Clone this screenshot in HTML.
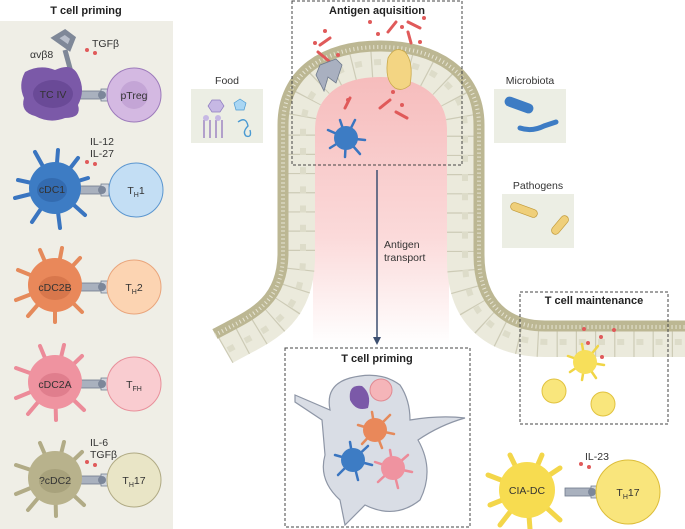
<!DOCTYPE html>
<html><head><meta charset="utf-8"><style>
body{margin:0;background:#fff}
svg{display:block;font-family:"Liberation Sans",sans-serif}
.t{font-size:10.5px;fill:#333}
.b{font-size:11px;font-weight:bold;fill:#222}
</style></head><body>
<svg width="685" height="529" viewBox="0 0 685 529">
<defs>
<linearGradient id="pk" x1="0" y1="0" x2="0" y2="1">
<stop offset="0" stop-color="#f6bcbc"/><stop offset="0.6" stop-color="#fbdada"/><stop offset="1" stop-color="#fff"/></linearGradient>
<g id="conn"><rect x="0" y="-4" width="30" height="8" fill="#a9b1be" stroke="#6f7a8c" stroke-width="0.8"/><path d="M26,-6 h8 v12 h-8 z" fill="#cfd4dc" stroke="#6f7a8c" stroke-width="0.8"/><circle cx="27" cy="0" r="4" fill="#7c879a"/></g>
<path id="cl" d="M225,350 C260,330 298,320 300,260 L300,130 C300,85 335,62 380,62 C425,62 462,85 462,130 L462,260 C462,320 500,342 545,342 L685,342"/>
<path id="ol" d="M215,334 C248,316 282,305 283,255 L283,125 C283,72 325,46 380,46 C435,46 479,72 479,125 L479,255 C479,305 508,326 545,326 L685,326"/>
</defs>

<text x="86" y="14" class="b" text-anchor="middle">T cell priming</text>
<rect x="0" y="21" width="173" height="508" fill="#efeee6"/>

<text x="30" y="58" class="t">αvβ8</text>
<text x="92" y="47" class="t">TGFβ</text>
<circle cx="87" cy="50" r="2" fill="#e05a5a"/><circle cx="95" cy="53" r="2" fill="#e05a5a"/>
<path d="M55,38 l10,-6 l8,6 l-4,10 z M65,50 l6,22" stroke="#7f8898" stroke-width="5" fill="#b9bfcb"/>
<use href="#conn" x="75" y="95"/>
<path d="M25,72 Q40,64 55,70 Q72,62 78,75 Q86,90 78,105 Q82,118 65,118 Q50,124 35,116 Q20,112 24,98 Q18,85 25,72z" fill="#7b59a8"/>
<ellipse cx="53" cy="94" rx="20" ry="14" fill="#6a4a97"/>
<text x="53" y="98" class="t" text-anchor="middle">TC IV</text>
<circle cx="134" cy="95" r="27" fill="#d4b9e2" stroke="#9d7bbb" stroke-width="1"/>
<circle cx="134" cy="95" r="14" fill="#c4a5d6"/>
<text x="134" y="99" class="t" text-anchor="middle">pTreg</text>

<text x="90" y="145" class="t">IL-12</text><text x="90" y="157" class="t">IL-27</text>
<circle cx="87" cy="162" r="2" fill="#e05a5a"/><circle cx="95" cy="164" r="2" fill="#e05a5a"/>
<use href="#conn" x="75" y="190"/>
<g stroke="#3a75c0" stroke-width="4" stroke-linecap="round">
<line x1="55" y1="188" x2="18" y2="180"/><line x1="55" y1="188" x2="15" y2="198"/><line x1="55" y1="188" x2="35" y2="152"/><line x1="55" y1="188" x2="58" y2="150"/><line x1="55" y1="188" x2="78" y2="158"/><line x1="55" y1="188" x2="85" y2="215"/><line x1="55" y1="188" x2="60" y2="228"/><line x1="55" y1="188" x2="32" y2="222"/><line x1="55" y1="188" x2="88" y2="178"/></g>
<circle cx="55" cy="188" r="26" fill="#3d7cc4"/><ellipse cx="52" cy="190" rx="15" ry="12" fill="#336bb0"/>
<text x="52" y="193" class="t" text-anchor="middle">cDC1</text>
<circle cx="136" cy="190" r="27" fill="#c3def4" stroke="#5b96cf" stroke-width="1"/>
<text x="136" y="194" class="t" text-anchor="middle">T<tspan font-size="7" dy="3">H</tspan><tspan dy="-3">1</tspan></text>

<use href="#conn" x="75" y="287"/>
<g stroke="#e58a5b" stroke-width="4" stroke-linecap="round">
<line x1="55" y1="285" x2="18" y2="270"/><line x1="55" y1="285" x2="16" y2="300"/><line x1="55" y1="285" x2="40" y2="250"/><line x1="55" y1="285" x2="62" y2="248"/><line x1="55" y1="285" x2="80" y2="258"/><line x1="55" y1="285" x2="82" y2="312"/><line x1="55" y1="285" x2="55" y2="322"/><line x1="55" y1="285" x2="28" y2="316"/></g>
<circle cx="55" cy="285" r="27" fill="#e9885a"/><ellipse cx="55" cy="288" rx="16" ry="12" fill="#d8774c"/>
<text x="55" y="291" class="t" text-anchor="middle">cDC2B</text>
<circle cx="134" cy="287" r="27" fill="#fcd4b2" stroke="#e9a57c" stroke-width="1"/>
<text x="134" y="291" class="t" text-anchor="middle">T<tspan font-size="7" dy="3">H</tspan><tspan dy="-3">2</tspan></text>

<use href="#conn" x="75" y="384"/>
<g stroke="#ec8b99" stroke-width="4" stroke-linecap="round">
<line x1="55" y1="382" x2="16" y2="368"/><line x1="55" y1="382" x2="16" y2="398"/><line x1="55" y1="382" x2="40" y2="346"/><line x1="55" y1="382" x2="64" y2="345"/><line x1="55" y1="382" x2="82" y2="356"/><line x1="55" y1="382" x2="84" y2="410"/><line x1="55" y1="382" x2="56" y2="420"/><line x1="55" y1="382" x2="28" y2="414"/></g>
<circle cx="55" cy="382" r="27" fill="#ef93a0"/><ellipse cx="55" cy="385" rx="16" ry="12" fill="#e07e8d"/>
<text x="55" y="388" class="t" text-anchor="middle">cDC2A</text>
<circle cx="134" cy="384" r="27" fill="#f9ccd0" stroke="#e8909b" stroke-width="1"/>
<text x="134" y="388" class="t" text-anchor="middle">T<tspan font-size="7" dy="3">FH</tspan></text>

<text x="90" y="446" class="t">IL-6</text><text x="90" y="458" class="t">TGFβ</text>
<circle cx="87" cy="462" r="2" fill="#e05a5a"/><circle cx="95" cy="465" r="2" fill="#e05a5a"/>
<use href="#conn" x="75" y="480"/>
<g stroke="#b1ab86" stroke-width="4" stroke-linecap="round">
<line x1="55" y1="478" x2="16" y2="465"/><line x1="55" y1="478" x2="16" y2="494"/><line x1="55" y1="478" x2="40" y2="443"/><line x1="55" y1="478" x2="64" y2="442"/><line x1="55" y1="478" x2="82" y2="452"/><line x1="55" y1="478" x2="84" y2="505"/><line x1="55" y1="478" x2="56" y2="516"/><line x1="55" y1="478" x2="28" y2="510"/></g>
<circle cx="55" cy="478" r="27" fill="#b8b28c"/><ellipse cx="55" cy="481" rx="16" ry="12" fill="#a8a27c"/>
<text x="55" y="484" class="t" text-anchor="middle">?cDC2</text>
<circle cx="134" cy="480" r="27" fill="#e9e5c6" stroke="#b0aa84" stroke-width="1"/>
<text x="134" y="484" class="t" text-anchor="middle">T<tspan font-size="7" dy="3">H</tspan><tspan dy="-3">17</tspan></text>

<!-- villus -->
<path d="M313,345 L313,135 C313,95 345,75 380,75 C415,75 449,95 449,135 L449,345 Z" fill="url(#pk)"/>
<use href="#cl" fill="none" stroke="#ebeadc" stroke-width="30"/>
<use href="#cl" fill="none" stroke="#cdcbb6" stroke-width="30" stroke-dasharray="1.2 18"/>
<use href="#cl" fill="none" stroke="#dddcc9" stroke-width="6" stroke-dasharray="7 12.2" transform="translate(3,0)"/>
<use href="#ol" fill="none" stroke="#bcb793" stroke-width="11"/>
<use href="#ol" fill="none" stroke="#e6e4d4" stroke-width="4" stroke-dasharray="1 3" transform="translate(0,1)"/>

<rect x="292" y="1" width="170" height="164" fill="none" stroke="#444" stroke-dasharray="3 2"/>
<text x="377" y="14" class="b" text-anchor="middle">Antigen aquisition</text>
<g fill="#e05a5a"><circle cx="315" cy="43" r="2"/><circle cx="325" cy="31" r="2"/><circle cx="370" cy="22" r="2"/><circle cx="378" cy="34" r="2"/><circle cx="402" cy="27" r="2"/><circle cx="420" cy="42" r="2"/><circle cx="424" cy="18" r="2"/><circle cx="338" cy="55" r="2"/><circle cx="348" cy="100" r="2"/><circle cx="393" cy="92" r="2"/><circle cx="402" cy="105" r="2"/></g>
<g stroke="#e05a5a" stroke-width="3" stroke-linecap="round"><line x1="318" y1="52" x2="330" y2="62"/><line x1="320" y1="45" x2="330" y2="38"/><line x1="388" y1="32" x2="396" y2="22"/><line x1="408" y1="22" x2="420" y2="28"/><line x1="408" y1="32" x2="411" y2="43"/><line x1="345" y1="108" x2="350" y2="98"/><line x1="380" y1="108" x2="390" y2="100"/><line x1="396" y1="112" x2="407" y2="118"/></g>
<path d="M316,75 l4,-10 l16,-6 l6,6 l-6,18 l-8,-6 l-4,14 z" fill="#a9b0c0" stroke="#6f7a8c" stroke-width="0.8"/>
<path d="M388,58 Q395,45 405,52 Q414,62 410,85 Q402,92 395,88 Q384,80 388,58z" fill="#f3d583" stroke="#c9a94b" stroke-width="0.8"/>
<g stroke="#3a75c0" stroke-width="2.5" stroke-linecap="round">
<line x1="346" y1="138" x2="328" y2="130"/><line x1="346" y1="138" x2="330" y2="148"/><line x1="346" y1="138" x2="340" y2="120"/><line x1="346" y1="138" x2="355" y2="120"/><line x1="346" y1="138" x2="365" y2="140"/><line x1="346" y1="138" x2="360" y2="154"/><line x1="346" y1="138" x2="345" y2="157"/></g>
<circle cx="346" cy="138" r="12" fill="#3d7cc4"/>

<line x1="377" y1="170" x2="377" y2="340" stroke="#3d4f70" stroke-width="1.5"/>
<path d="M373,337 L377,345 L381,337 z" fill="#3d4f70"/>
<text x="384" y="248" class="t">Antigen</text><text x="384" y="261" class="t">transport</text>

<text x="227" y="84" class="t" text-anchor="middle">Food</text>
<rect x="191" y="89" width="72" height="54" fill="#eceee4"/>
<polygon points="212,100 220,100 224,106 220,112 212,112 208,106" fill="#c6b8e4" stroke="#8e7cc0" stroke-width="0.7"/>
<polygon points="240,99 246,103 244,110 236,110 234,103" fill="#a9d6f3" stroke="#4a9ad2" stroke-width="0.7"/>
<path d="M204,120 v18 M210,120 v18 M216,120 v18 M222,120 v18" stroke="#8c6dbb" stroke-width="1.2"/>
<circle cx="206" cy="118" r="3" fill="#c6b8e4"/><circle cx="218" cy="118" r="3" fill="#c6b8e4"/>
<path d="M238,122 q8,-6 10,4 q-6,6 -2,10 q6,2 4,-6" fill="none" stroke="#4a9ad2" stroke-width="1.4"/>

<text x="530" y="84" class="t" text-anchor="middle">Microbiota</text>
<rect x="494" y="89" width="72" height="54" fill="#eceee4"/>
<rect x="504" y="100" width="30" height="10" rx="5" fill="#3d7cc4" transform="rotate(20 519 105)"/>
<path d="M520,128 q12,4 24,-2 l12,-4" fill="none" stroke="#3d7cc4" stroke-width="5" stroke-linecap="round"/>

<text x="538" y="189" class="t" text-anchor="middle">Pathogens</text>
<rect x="502" y="194" width="72" height="54" fill="#eceee4"/>
<rect x="510" y="206" width="28" height="8" rx="4" fill="#efcf7a" stroke="#c29b3a" stroke-width="0.7" transform="rotate(20 524 210)"/>
<rect x="556" y="214" width="8" height="22" rx="4" fill="#efcf7a" stroke="#c29b3a" stroke-width="0.7" transform="rotate(40 560 225)"/>

<rect x="520" y="292" width="148" height="132" fill="none" stroke="#444" stroke-dasharray="3 2"/>
<text x="594" y="304" class="b" text-anchor="middle">T cell maintenance</text>
<g stroke="#f0d546" stroke-width="2.5" stroke-linecap="round">
<line x1="585" y1="362" x2="568" y2="356"/><line x1="585" y1="362" x2="570" y2="372"/><line x1="585" y1="362" x2="582" y2="344"/><line x1="585" y1="362" x2="598" y2="346"/><line x1="585" y1="362" x2="604" y2="365"/><line x1="585" y1="362" x2="596" y2="378"/><line x1="585" y1="362" x2="582" y2="380"/></g>
<circle cx="585" cy="362" r="12" fill="#f7df5a"/>
<g fill="#e05a5a"><circle cx="584" cy="329" r="2"/><circle cx="601" cy="337" r="2"/><circle cx="614" cy="330" r="2"/><circle cx="588" cy="343" r="2"/><circle cx="602" cy="357" r="2"/></g>
<circle cx="554" cy="391" r="12" fill="#f9e67c" stroke="#e1c23e"/><circle cx="603" cy="404" r="12" fill="#f9e67c" stroke="#e1c23e"/>

<rect x="285" y="348" width="185" height="179" fill="none" stroke="#444" stroke-dasharray="3 2"/>
<text x="377" y="362" class="b" text-anchor="middle">T cell priming</text>
<path d="M295,395 L330,410 Q325,385 350,378 Q380,370 400,385 Q410,400 410,420 Q440,415 465,418 Q440,425 418,440 Q435,470 420,500 Q395,520 365,505 L345,525 L340,500 Q318,480 325,455 L322,420 L295,402z" fill="#d9dde5" stroke="#8e96a6" stroke-width="1.2"/>
<path d="M350,400 Q348,384 362,386 Q372,394 368,408 Q356,412 350,400z" fill="#7b59a8"/>
<circle cx="381" cy="390" r="11" fill="#f5b5b9" stroke="#e08a92"/>
<g stroke-linecap="round" stroke-width="2.5">
<g stroke="#e58a5b"><line x1="375" y1="430" x2="358" y2="425"/><line x1="375" y1="430" x2="362" y2="444"/><line x1="375" y1="430" x2="372" y2="412"/><line x1="375" y1="430" x2="390" y2="415"/><line x1="375" y1="430" x2="394" y2="434"/><line x1="375" y1="430" x2="382" y2="448"/></g>
<g stroke="#3a75c0"><line x1="353" y1="460" x2="335" y2="455"/><line x1="353" y1="460" x2="338" y2="475"/><line x1="353" y1="460" x2="350" y2="442"/><line x1="353" y1="460" x2="368" y2="446"/><line x1="353" y1="460" x2="372" y2="465"/><line x1="353" y1="460" x2="358" y2="480"/></g>
<g stroke="#ec8b99"><line x1="393" y1="468" x2="375" y2="462"/><line x1="393" y1="468" x2="378" y2="482"/><line x1="393" y1="468" x2="390" y2="450"/><line x1="393" y1="468" x2="408" y2="455"/><line x1="393" y1="468" x2="412" y2="472"/><line x1="393" y1="468" x2="398" y2="488"/></g></g>
<circle cx="375" cy="430" r="12" fill="#e9885a"/><circle cx="353" cy="460" r="12" fill="#3d7cc4"/><circle cx="393" cy="468" r="12" fill="#ef93a0"/>

<text x="585" y="460" class="t">IL-23</text>
<circle cx="581" cy="464" r="2" fill="#e05a5a"/><circle cx="589" cy="467" r="2" fill="#e05a5a"/>
<use href="#conn" x="565" y="492"/>
<g stroke="#f3d64a" stroke-width="5" stroke-linecap="round">
<line x1="527" y1="490" x2="488" y2="475"/><line x1="527" y1="490" x2="490" y2="505"/><line x1="527" y1="490" x2="510" y2="455"/><line x1="527" y1="490" x2="542" y2="455"/><line x1="527" y1="490" x2="560" y2="468"/><line x1="527" y1="490" x2="560" y2="520"/><line x1="527" y1="490" x2="530" y2="529"/><line x1="527" y1="490" x2="500" y2="525"/></g>
<circle cx="527" cy="490" r="28" fill="#f7dc50"/>
<text x="527" y="494" class="t" text-anchor="middle">CIA-DC</text>
<circle cx="628" cy="492" r="32" fill="#f9e57c" stroke="#dcbd3a"/>
<text x="628" y="496" class="t" text-anchor="middle">T<tspan font-size="7" dy="3">H</tspan><tspan dy="-3">17</tspan></text>
</svg>
</body></html>
